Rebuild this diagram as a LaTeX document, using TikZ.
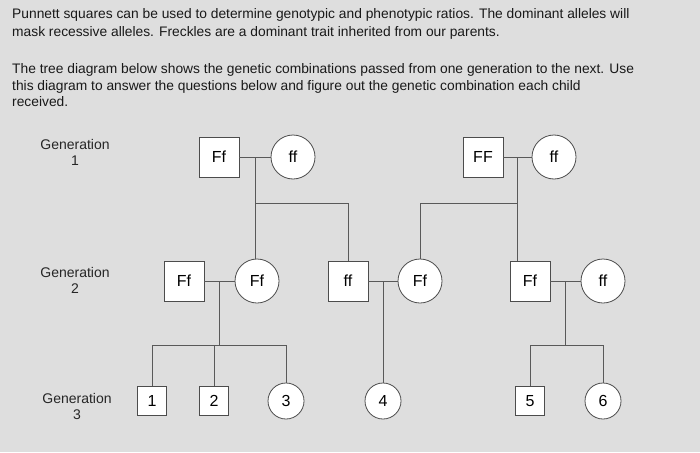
\documentclass[tikz,border=0pt]{standalone}
\usepackage{fontspec}
\setmainfont{Liberation Sans}
\usetikzlibrary{calc}
\begin{document}
\begin{tikzpicture}[x=1pt,y=-1pt,
  txt/.style={anchor=west,inner sep=0,font=\fontsize{13.8}{15}\selectfont,text=black!90},
  sq/.style={draw=black!70,fill=white,minimum size=40pt,inner sep=0,font=\fontsize{16}{17}\selectfont,line width=0.8pt},
  sqs/.style={sq,minimum size=29pt},
  ci/.style={draw=black!70,fill=white,circle,minimum size=44pt,inner sep=0,font=\fontsize{16}{17}\selectfont,line width=0.8pt},
  cis/.style={ci,minimum size=36pt},
  gen/.style={align=center,font=\fontsize{14}{16}\selectfont,text=black!85},
  ln/.style={draw=black!65,line width=0.9pt}]
\useasboundingbox[fill=black!13] (0,0) rectangle (700,452);
\node[txt] (t1) at (12,15) {Punnett squares can be used to determine genotypic and phenotypic ratios. The dominant alleles will};
\node[txt] (t2) at (12,33) {mask recessive alleles. Freckles are a dominant trait inherited from our parents.};
\node[txt] (t3) at (12,70) {The tree diagram below shows the genetic combinations passed from one generation to the next. Use};
\node[txt] (t4) at (12,87) {this diagram to answer the questions below and figure out the genetic combination each child};
\node[txt] (t5) at (12,102) {received.};
\node[gen] (g1) at (75,152) {Generation\\1};
\node[gen] (g2) at (75,280) {Generation\\2};
\node[gen] (g3) at (77,406) {Generation\\3};
\node[sq] (a) at (219,157) {Ff};
\node[ci] (b) at (293,157) {ff};
\node[sq] (c) at (483,157) {FF};
\node[ci] (d) at (554,157) {ff};
\node[sq] (e) at (184,281) {Ff};
\node[ci] (f) at (257,281) {Ff};
\node[sq] (g) at (348,281) {ff};
\node[ci] (h) at (420,281) {Ff};
\node[sq] (i) at (530,281) {Ff};
\node[ci] (j) at (603,281) {ff};
\node[sqs] (k1) at (152,401) {1};
\node[sqs] (k2) at (214,401) {2};
\node[cis] (k3) at (286,401) {3};
\node[cis] (k4) at (383,401) {4};
\node[sqs] (k5) at (530,401) {5};
\node[cis] (k6) at (603,401) {6};
\coordinate (m1) at ($(a.east)!0.5!(b.west)$);
\coordinate (m2) at ($(c.east)!0.5!(d.west)$);
\coordinate (m3) at ($(e.east)!0.5!(f.west)$);
\coordinate (m4) at ($(g.east)!0.5!(h.west)$);
\coordinate (m5) at ($(i.east)!0.5!(j.west)$);
\draw[ln] (a) -- (b); \draw[ln] (c) -- (d);
\draw[ln] (e) -- (f); \draw[ln] (g) -- (h); \draw[ln] (i) -- (j);
\draw[ln] (m1) -- (m1 |- f.north);
\draw[ln] (m1 |- 0,203) -| (g.north);
\draw[ln] (m2) -- (m2 |- i.north);
\draw[ln] (m2 |- 0,203) -| (h.north);
\draw[ln] (m3) -- (m3 |- 0,345);
\draw[ln] (k1.north |- 0,345) -- (k3.north |- 0,345);
\draw[ln] (k1.north) -- (k1.north |- 0,345);
\draw[ln] (k2.north) -- (k2.north |- 0,345);
\draw[ln] (k3.north) -- (k3.north |- 0,345);
\draw[ln] (m4) -- (m4 |- k4.north);
\draw[ln] (m5) -- (m5 |- 0,345);
\draw[ln] (k5.north |- 0,345) -- (k6.north |- 0,345);
\draw[ln] (k5.north) -- (k5.north |- 0,345);
\draw[ln] (k6.north) -- (k6.north |- 0,345);
\end{tikzpicture}
\end{document}
